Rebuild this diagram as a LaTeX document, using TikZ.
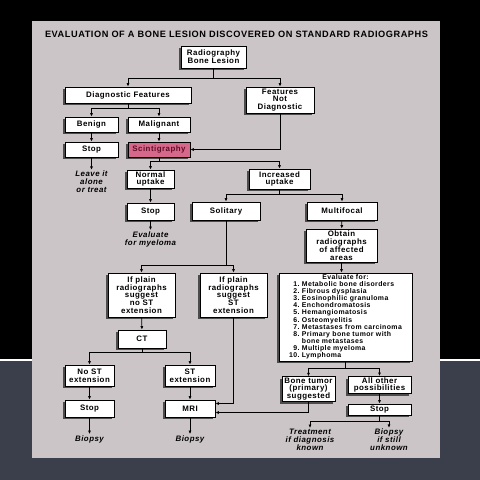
\documentclass[tikz,border=0pt]{standalone}
\usepackage{fontspec}
\setmainfont{Liberation Sans}[LetterSpace=6]
\usetikzlibrary{arrows.meta,shadows}
\definecolor{panel}{RGB}{203,197,200}
\definecolor{slate}{RGB}{58,63,75}
\definecolor{scintpink}{RGB}{214,104,140}
\definecolor{scinttext}{RGB}{95,15,40}
\tikzset{
  box/.style={draw=black, fill=white, line width=0.7pt, align=center, inner sep=1pt,
    font=\bfseries\fontsize{7.9}{7.8}\selectfont,
    drop shadow={shadow xshift=-2.2pt, shadow yshift=-2.2pt, fill=black!70, opacity=1}},
  note/.style={align=center, inner sep=1pt, font=\bfseries\itshape\fontsize{7.9}{8}\selectfont},
  arr/.style={-{Latex[length=3.5pt,width=3pt]}, line width=0.7pt},
  link/.style={line width=0.7pt}
}
\begin{document}
\begin{tikzpicture}[x=1pt,y=-1pt]
    \useasboundingbox (0,0) rectangle (480,480);
    \fill[black] (0,0) rectangle (480,359);
    \fill[slate] (0,361) rectangle (480,480);
    \fill[white] (0,359) rectangle (480,361);
    \fill[panel] (32,21) rectangle (440,458);

    \node[font=\bfseries\fontsize{9.2}{9.5}\selectfont] at (236.5,34) (title) {EVALUATION OF A BONE LESION DISCOVERED ON STANDARD RADIOGRAPHS};

    \node[box, minimum width=65pt, minimum height=22pt] at (213.5,57) (radio) {Radiography\\Bone Lesion};
    \node[box, minimum width=126pt, minimum height=16pt] at (128,95) (diag) {Diagnostic Features};
    \node[box, minimum width=68pt, minimum height=26pt] at (280,100) (notdiag) {Features\\Not\\Diagnostic};
    \node[box, minimum width=53pt, minimum height=15pt] at (91.5,124.5) (benign) {Benign};
    \node[box, minimum width=62pt, minimum height=15pt] at (159,124.5) (malig) {Malignant};
    \node[box, minimum width=53pt, minimum height=15pt] at (91.5,149.5) (stopa) {Stop};
    \node[box, minimum width=62pt, minimum height=15pt, fill=scintpink, text=scinttext] at (159,149.5) (scint) {Scintigraphy};
    \node[note] at (91.5,182) (leave) {Leave it\\alone\\or treat};

    \node[box, minimum width=47pt, minimum height=18pt] at (150.5,179) (normal) {Normal\\uptake};
    \node[box, minimum width=47pt, minimum height=17pt] at (150.5,211.5) (stopb) {Stop};
    \node[note] at (150.5,239) (myeloma) {Evaluate\\for myeloma};
    \node[box, minimum width=61pt, minimum height=20pt] at (279.5,179) (incr) {Increased\\uptake};
    \node[box, minimum width=68pt, minimum height=18pt] at (226,211) (solitary) {Solitary};
    \node[box, minimum width=70pt, minimum height=18pt] at (342,211) (multi) {Multifocal};
    \node[box, minimum width=71pt, minimum height=33pt] at (341.5,245.5) (obtain) {Obtain\\radiographs\\of affected\\areas};
    \node[box, minimum width=133pt, minimum height=88pt, font=\bfseries\fontsize{6.9}{7}\selectfont] at (345.5,317) (evalfor) {%
      \begin{tabular}{@{}r@{~}l@{}}
        \multicolumn{2}{c}{Evaluate for:}\\
        1. & Metabolic bone disorders\\
        2. & Fibrous dysplasia\\
        3. & Eosinophilic granuloma\\
        4. & Enchondromatosis\\
        5. & Hemangiomatosis\\
        6. & Osteomyelitis\\
        7. & Metastases from carcinoma\\
        8. & Primary bone tumor with\\
           & bone metastases\\
        9. & Multiple myeloma\\
        10. & Lymphoma
      \end{tabular}};

    \node[box, minimum width=67pt, minimum height=44pt] at (141.5,295) (ifno) {If plain\\radiographs\\suggest\\no ST\\extension};
    \node[box, minimum width=67pt, minimum height=44pt] at (233.5,295) (ifst) {If plain\\radiographs\\suggest\\ST\\extension};
    \node[box, minimum width=48pt, minimum height=18pt] at (142,339) (ct) {CT};
    \node[box, minimum width=49pt, minimum height=21pt] at (89.5,375.5) (nost) {No ST\\extension};
    \node[box, minimum width=50pt, minimum height=21pt] at (190,375.5) (st) {ST\\extension};
    \node[box, minimum width=49pt, minimum height=17pt] at (89.5,408.5) (stopc) {Stop};
    \node[box, minimum width=50pt, minimum height=17pt] at (190,408.5) (mri) {MRI};
    \node[note] at (89.5,439) (biopa) {Biopsy};
    \node[note] at (190,439) (biopb) {Biopsy};

    \node[box, minimum width=53pt, minimum height=24pt] at (308.5,389) (bone) {Bone tumor\\(primary)\\suggested};
    \node[box, minimum width=63pt, minimum height=16pt] at (379.5,385) (allother) {All other\\possibilities};
    \node[box, minimum width=63pt, minimum height=11pt] at (379.5,409.5) (stopd) {Stop};
    \node[note] at (310,440) (treat) {Treatment\\if diagnosis\\known};
    \node[note] at (389,440) (biopc) {Biopsy\\if still\\unknown};

    \draw[link] (radio.south) -- ++(0,10) coordinate (j1);
    \draw[arr] (j1) -| (diag.north);
    \draw[arr] (j1) -| (notdiag.north);
    \draw[link] (diag.south) -- ++(0,5) coordinate (j2);
    \draw[arr] (j2) -| (benign.north);
    \draw[arr] (j2) -| (malig.north);
    \draw[arr] (benign) -- (stopa);
    \draw[arr] (malig) -- (scint);
    \draw[arr] (notdiag.south) |- (scint.east);
    \draw[arr] (stopa) -- (leave);

    \draw[link] (scint.south) -- ++(0,4) coordinate (j3);
    \draw[arr] (j3) -| (normal.north);
    \draw[arr] (j3) -| (incr.north);
    \draw[arr] (normal) -- (stopb);
    \draw[arr] (stopb) -- (myeloma);
    \draw[link] (incr.south) -- ++(0,5) coordinate (j4);
    \draw[arr] (j4) -| (solitary.north);
    \draw[arr] (j4) -| (multi.north);
    \draw[arr] (multi) -- (obtain);
    \draw[arr] (obtain) -- (evalfor.north -| obtain.south);

    \draw[link] (solitary.south) -- (solitary.south |- 0,265) coordinate (j5);
    \draw[arr] (j5) -| (ifno.north);
    \draw[arr] (j5) -| (ifst.north);
    \draw[arr] (ifno) -- (ct);
    \draw[link] (ct.south) -- ++(0,4) coordinate (j6);
    \draw[arr] (j6) -| (nost.north);
    \draw[arr] (j6) -| (st.north);
    \draw[arr] (nost) -- (stopc);
    \draw[arr] (stopc) -- (biopa);
    \draw[arr] (st) -- (mri);
    \draw[arr] (mri) -- (biopb);
    \draw[arr] (ifst.south) |- ([yshift=5pt]mri.east);
    \draw[arr] (bone.south) |- ([yshift=-4pt]mri.east);

    \draw[link] (evalfor.south) -- ++(0,7) coordinate (j7);
    \draw[arr] (j7) -| (bone.north);
    \draw[arr] (j7) -| (allother.north);
    \draw[arr] (allother) -- (stopd);
    \draw[link] (stopd.south) -- ++(0,6) coordinate (j8);
    \draw[arr] (j8) -| (treat.north);
    \draw[arr] (j8) -| (biopc.north);
\end{tikzpicture}
\end{document}
